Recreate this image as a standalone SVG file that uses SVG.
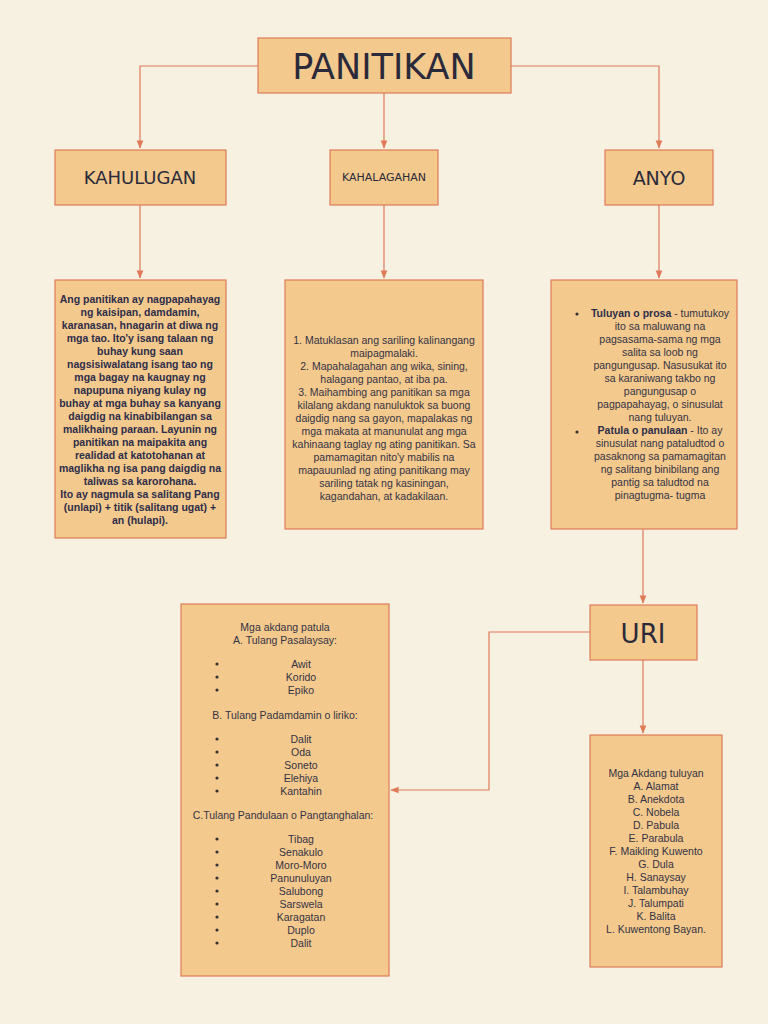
<svg xmlns="http://www.w3.org/2000/svg" width="768" height="1024" viewBox="0 0 768 1024">
<style>
.b{fill:#f3c98d;stroke:#e07b5a;stroke-width:1.2}
.t{font-family:"Liberation Sans",Arial,sans-serif;fill:#333344;text-anchor:middle}
.h{font-family:"DejaVu Sans",sans-serif;fill:#2a2a3a;text-anchor:middle}
.s{font-size:10.5px}
.bd{font-size:10.5px;font-weight:bold;fill:#2e2e4a}
.c{fill:none;stroke:#e07b5a;stroke-width:1.2;marker-end:url(#a)}
</style>
<defs><marker id="a" viewBox="0 0 10 10" refX="9" refY="5" markerWidth="7" markerHeight="7" orient="auto"><path d="M0,1L10,5L0,9z" fill="#e07b5a"/></marker></defs>
<rect width="768" height="1024" fill="#f6f1e1"/>
<g id="connectors">
<path class="c" d="M258,66H140V148"/>
<path class="c" d="M384,93V148"/>
<path class="c" d="M511,66H659V148"/>
<path class="c" d="M140,205V278"/>
<path class="c" d="M384,205V278"/>
<path class="c" d="M659,205V278"/>
<path class="c" d="M643,529V603"/>
<path class="c" d="M590,632H489V790H391"/>
<path class="c" d="M643,660V733"/>
</g>
<g id="panitikan"><rect class="b" x="258" y="38" width="253" height="55"/><text class="h" x="384" y="79" font-size="35">PANITIKAN</text></g>
<g id="kahulugan"><rect class="b" x="55" y="150" width="171" height="55"/><text class="h" x="140" y="184" font-size="18">KAHULUGAN</text></g>
<g id="kahalagahan"><rect class="b" x="330" y="150" width="108" height="55"/><text class="h" x="384" y="181" font-size="11">KAHALAGAHAN</text></g>
<g id="anyo"><rect class="b" x="605" y="150" width="108" height="55"/><text class="h" x="659" y="185" font-size="19">ANYO</text></g>
<g id="kahulugan-text"><rect class="b" x="55" y="280" width="171" height="258"/>
<text class="t bd"><tspan x="140" y="303">Ang panitikan ay nagpapahayag</tspan><tspan x="140" dy="13">ng kaisipan, damdamin,</tspan><tspan x="140" dy="13">karanasan, hnagarin at diwa ng</tspan><tspan x="140" dy="13">mga tao. Ito'y isang talaan ng</tspan><tspan x="140" dy="13">buhay kung saan</tspan><tspan x="140" dy="13">nagsisiwalatang isang tao ng</tspan><tspan x="140" dy="13">mga bagay na kaugnay ng</tspan><tspan x="140" dy="13">napupuna niyang kulay ng</tspan><tspan x="140" dy="13">buhay at mga buhay sa kanyang</tspan><tspan x="140" dy="13">daigdig na kinabibilangan sa</tspan><tspan x="140" dy="13">malikhaing paraan. Layunin ng</tspan><tspan x="140" dy="13">panitikan na maipakita ang</tspan><tspan x="140" dy="13">realidad at katotohanan at</tspan><tspan x="140" dy="13">maglikha ng isa pang daigdig na</tspan><tspan x="140" dy="13">taliwas sa karorohana.</tspan><tspan x="140" dy="13">Ito ay nagmula sa salitang Pang</tspan><tspan x="140" dy="13">(unlapi) + titik (salitang ugat) +</tspan><tspan x="140" dy="13">an (hulapi).</tspan></text></g>
<g id="kahalagahan-text"><rect class="b" x="285" y="280" width="198" height="249"/>
<text class="t s"><tspan x="384" y="344">1. Matuklasan ang sariling kalinangang</tspan><tspan x="384" dy="13">maipagmalaki.</tspan><tspan x="384" dy="13">2. Mapahalagahan ang wika, sining,</tspan><tspan x="384" dy="13">halagang pantao, at iba pa.</tspan><tspan x="384" dy="13">3. Maihambing ang panitikan sa mga</tspan><tspan x="384" dy="13">kilalang akdang nanuluktok sa buong</tspan><tspan x="384" dy="13">daigdig nang sa gayon, mapalakas ng</tspan><tspan x="384" dy="13">mga makata at manunulat ang mga</tspan><tspan x="384" dy="13">kahinaang taglay ng ating panitikan. Sa</tspan><tspan x="384" dy="13">pamamagitan nito'y mabilis na</tspan><tspan x="384" dy="13">mapauunlad ng ating panitikang may</tspan><tspan x="384" dy="13">sariling tatak ng kasiningan,</tspan><tspan x="384" dy="13">kagandahan, at kadakilaan.</tspan></text></g>
<g id="anyo-text"><rect class="b" x="551" y="280" width="186" height="249"/>
<circle cx="577" cy="314" r="1.6" fill="#333"/><circle cx="577" cy="432" r="1.6" fill="#333"/>
<text class="t s"><tspan x="660" y="317"><tspan font-weight="bold" fill="#2e2e4a">Tuluyan o prosa</tspan> -  tumutukoy</tspan><tspan x="660" dy="13">ito sa maluwang na</tspan><tspan x="660" dy="13">pagsasama-sama ng mga</tspan><tspan x="660" dy="13">salita sa loob ng</tspan><tspan x="660" dy="13">pangungusap. Nasusukat ito</tspan><tspan x="660" dy="13">sa karaniwang takbo ng</tspan><tspan x="660" dy="13">pangungusap o</tspan><tspan x="660" dy="13">pagpapahayag, o sinusulat</tspan><tspan x="660" dy="13">nang tuluyan.</tspan><tspan x="660" dy="13"><tspan font-weight="bold" fill="#2e2e4a">Patula o panulaan</tspan> -  Ito ay</tspan><tspan x="660" dy="13">sinusulat nang pataludtod o</tspan><tspan x="660" dy="13">pasaknong sa pamamagitan</tspan><tspan x="660" dy="13">ng salitang binibilang ang</tspan><tspan x="660" dy="13">pantig sa taludtod na</tspan><tspan x="660" dy="13">pinagtugma- tugma</tspan></text></g>
<g id="uri"><rect class="b" x="590" y="605" width="107" height="55"/><text class="h" x="643" y="643" font-size="26">URI</text></g>
<g id="patula"><rect class="b" x="181" y="604" width="208" height="372"/>
<g fill="#333"><circle cx="217" cy="664" r="1.6"/><circle cx="217" cy="677" r="1.6"/><circle cx="217" cy="690" r="1.6"/><circle cx="217" cy="739" r="1.6"/><circle cx="217" cy="752" r="1.6"/><circle cx="217" cy="765" r="1.6"/><circle cx="217" cy="778" r="1.6"/><circle cx="217" cy="791" r="1.6"/><circle cx="217" cy="839" r="1.6"/><circle cx="217" cy="852" r="1.6"/><circle cx="217" cy="865" r="1.6"/><circle cx="217" cy="878" r="1.6"/><circle cx="217" cy="891" r="1.6"/><circle cx="217" cy="904" r="1.6"/><circle cx="217" cy="917" r="1.6"/><circle cx="217" cy="930" r="1.6"/><circle cx="217" cy="943" r="1.6"/></g>
<text class="t s"><tspan x="285" y="631">Mga akdang patula</tspan><tspan x="285" dy="13">A. Tulang Pasalaysay:</tspan><tspan x="301" y="668">Awit</tspan><tspan x="301" dy="13">Korido</tspan><tspan x="301" dy="13">Epiko</tspan><tspan x="285" y="719">B. Tulang Padamdamin o liriko:</tspan><tspan x="301" y="743">Dalit</tspan><tspan x="301" dy="13">Oda</tspan><tspan x="301" dy="13">Soneto</tspan><tspan x="301" dy="13">Elehiya</tspan><tspan x="301" dy="13">Kantahin</tspan><tspan x="283" y="819">C.Tulang Pandulaan o Pangtanghalan:</tspan><tspan x="301" y="843">Tibag</tspan><tspan x="301" dy="13">Senakulo</tspan><tspan x="301" dy="13">Moro-Moro</tspan><tspan x="301" dy="13">Panunuluyan</tspan><tspan x="301" dy="13">Salubong</tspan><tspan x="301" dy="13">Sarswela</tspan><tspan x="301" dy="13">Karagatan</tspan><tspan x="301" dy="13">Duplo</tspan><tspan x="301" dy="13">Dalit</tspan></text></g>
<g id="tuluyan"><rect class="b" x="590" y="735" width="132" height="232"/>
<text class="t s"><tspan x="656" y="777">Mga Akdang tuluyan</tspan><tspan x="656" dy="13">A. Alamat</tspan><tspan x="656" dy="13">B. Anekdota</tspan><tspan x="656" dy="13">C. Nobela</tspan><tspan x="656" dy="13">D. Pabula</tspan><tspan x="656" dy="13">E. Parabula</tspan><tspan x="656" dy="13">F. Maikling Kuwento</tspan><tspan x="656" dy="13">G. Dula</tspan><tspan x="656" dy="13">H. Sanaysay</tspan><tspan x="656" dy="13">I. Talambuhay</tspan><tspan x="656" dy="13">J. Talumpati</tspan><tspan x="656" dy="13">K. Balita</tspan><tspan x="656" dy="13">L. Kuwentong Bayan.</tspan></text></g>
</svg>
